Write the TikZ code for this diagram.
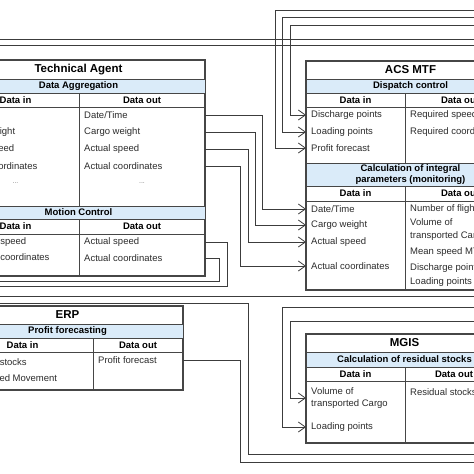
\documentclass[tikz,border=0pt]{standalone}
\usepackage{fontspec}
\setmainfont{Liberation Sans}
\usetikzlibrary{arrows.meta}
\definecolor{boxc}{RGB}{70,70,70}
\definecolor{linec}{RGB}{60,60,60}
\definecolor{rowc}{RGB}{218,235,249}
\definecolor{txtc}{RGB}{45,45,45}
\begin{document}
\begin{tikzpicture}[x=1pt,y=-1pt,
	boxline/.style={draw=boxc,line width=1.1pt},
	hline/.style={draw=boxc,line width=0.9pt},
	band/.style={fill=rowc,draw=boxc,line width=0.9pt},
	ttl/.style={inner sep=0pt,text=black,font=\bfseries\fontsize{11.5}{13}\selectfont},
	sub/.style={inner sep=0pt,text=black,font=\bfseries\fontsize{9.5}{10.5}\selectfont,align=center},
	cell/.style={anchor=west,inner sep=0pt,text=txtc,font=\fontsize{9.5}{12.5}\selectfont,align=left},
	more/.style={inner sep=0pt,text=gray,font=\fontsize{7}{8}\selectfont},
	wire/.style={draw=linec,line width=0.8pt},
	link/.style={wire,-{Straight Barb[length=7pt,width=10pt]}}]
			\useasboundingbox (0,0) rectangle (474,474);
			\clip (0,0) rectangle (474,474);
			\fill[white] (0,0) rectangle (474,474);
			% edges of the blocks
			\coordinate (taW) at (-48,0);
			\coordinate (taE) at (205,0);
			\coordinate (acsW) at (306,0);
			\coordinate (acsE) at (515,0);
			\coordinate (mgW) at (306,0);
			\coordinate (mgE) at (503,0);
			\coordinate (erW) at (-48,0);
			\coordinate (erE) at (183,0);
			% Technical Agent
			\draw[boxline] (-48,60) rectangle (205,276);
			\draw[band] (-48,79) rectangle (205,93);
			\draw[hline] (-48,107) -- (205,107);
			\draw[band] (-48,206) rectangle (205,219);
			\draw[hline] (-48,234) -- (205,234);
			\draw[hline] (79,93) -- (79,206) (79,219) -- (79,276);
			\node[ttl] (taT) at (78.5,70) {Technical Agent};
			\node[sub] (taS1) at (78.5,86) {Data Aggregation};
			\node[sub] (taH1) at (15.5,100) {Data in};
			\node[sub] (taH2) at (142,100) {Data out};
			\node[cell] (tai2) at (-41,132) {Cargo weight};
			\node[cell] (tai3) at (-41,149) {Actual speed};
			\node[cell] (tai4) at (-41,166) {Actual coordinates};
			\node[more] (taiD) at (15.5,183) {...};
			\node[cell] (tao1) at (84,115) {Date/Time};
			\node[cell] (tao2) at (84,132) {Cargo weight};
			\node[cell] (tao3) at (84,149) {Actual speed};
			\node[cell] (tao4) at (84,166) {Actual coordinates};
			\node[more] (taoD) at (142,183) {...};
			\node[sub] (taS2) at (78.5,212.5) {Motion Control};
			\node[sub] (taH3) at (15.5,226.5) {Data in};
			\node[sub] (taH4) at (142,226.5) {Data out};
			\node[cell] (mci1) at (-41,242) {Required speed};
			\node[cell] (mci2) at (-41,258) {Required coordinates};
			\node[cell] (mco1) at (84,242) {Actual speed};
			\node[cell] (mco2) at (84,258) {Actual coordinates};
			% ACS MTF
			\draw[boxline] (306,61) rectangle (515,290);
			\draw[band] (306,79) rectangle (515,93);
			\draw[hline] (306,107) -- (515,107);
			\draw[band] (306,163) rectangle (515,186);
			\draw[hline] (306,201) -- (515,201);
			\draw[hline] (405,93) -- (405,163) (405,186) -- (405,290);
			\node[ttl] (acsT) at (410.5,70) {ACS MTF};
			\node[sub] (acsS1) at (410.5,86) {Dispatch control};
			\node[sub] (acsH1) at (355.5,100) {Data in};
			\node[sub] (acsH2) at (460,100) {Data out};
			\node[cell] (dci1) at (311,115) {Discharge points};
			\node[cell] (dci2) at (311,132) {Loading points};
			\node[cell] (dci3) at (311,148) {Profit forecast};
			\node[cell] (dco1) at (410,115) {Required speed};
			\node[cell] (dco2) at (410,132) {Required coordinates};
			\node[sub] (acsS2) at (410.5,174.5) {Calculation of integral\\parameters (monitoring)};
			\node[sub] (acsH3) at (355.5,193.5) {Data in};
			\node[sub] (acsH4) at (460,193.5) {Data out};
			\node[cell] (mni1) at (311,209) {Date/Time};
			\node[cell] (mni2) at (311,225) {Cargo weight};
			\node[cell] (mni3) at (311,242) {Actual speed};
			\node[cell] (mni4) at (311,266) {Actual coordinates};
			\node[cell] (mno1) at (410,209) {Number of flights};
			\node[cell] (mno2) at (410,229.5) {Volume of\\transported Cargo};
			\node[cell] (mno3) at (410,252) {Mean speed MTF};
			\node[cell] (mno4) at (410,268) {Discharge points};
			\node[cell] (mno5) at (410,282) {Loading points};
			% MGIS
			\draw[boxline] (306,334) rectangle (503,443);
			\draw[band] (306,352) rectangle (503,367);
			\draw[hline] (306,381) -- (503,381);
			\draw[hline] (405,367) -- (405,443);
			\node[ttl] (mgT) at (404.5,343) {MGIS};
			\node[sub] (mgS) at (404.5,359.5) {Calculation of residual stocks};
			\node[sub] (mgH1) at (355.5,374) {Data in};
			\node[sub] (mgH2) at (454,374) {Data out};
			\node[cell] (mgi1) at (311,398) {Volume of\\transported Cargo};
			\node[cell] (mgi2) at (311,427) {Loading points};
			\node[cell] (mgo1) at (410,392) {Residual stocks};
			% ERP
			\draw[boxline] (-48,306) rectangle (183,390);
			\draw[band] (-48,324) rectangle (183,338);
			\draw[hline] (-48,352) -- (183,352);
			\draw[hline] (93,338) -- (93,390);
			\node[ttl] (erT) at (67.5,315) {ERP};
			\node[sub] (erS) at (67.5,331) {Profit forecasting};
			\node[sub] (erH1) at (22.5,345) {Data in};
			\node[sub] (erH2) at (138,345) {Data out};
			\node[cell] (eri1) at (-40,362) {Residual stocks};
			\node[cell] (eri2) at (-35,378) {Scheduled Movement};
			\node[cell] (ero1) at (98,360) {Profit forecast};
			% data aggregation -> monitoring
			\draw[link] (tao1 -| taE) -- ++(57,0) |- (mni1 -| acsW);
			\draw[link] (tao2 -| taE) -- ++(50,0) |- (mni2 -| acsW);
			\draw[link] (tao3 -| taE) -- ++(43,0) |- (mni3 -| acsW);
			\draw[link] (tao4 -| taE) -- ++(35,0) |- (mni4 -| acsW);
			% dispatch control -> motion control, round the top
			\draw[link] (dco1 -| acsE) -- ++(15,0) |- (-75,39) |- (mci1 -| taW);
			\draw[link] (dco2 -| acsE) -- ++(8,0) |- (-68,45) |- (mci2 -| taW);
			% motion control out to the left
			\coordinate (mcOut1) at (-100,286);
			\coordinate (mcOut2) at (-100,281);
			\draw[link] (mco1 -| taE) -- ++(22,0) |- (mcOut1);
			\draw[link] (mco2 -| taE) -- ++(14,0) |- (mcOut2);
			% profit forecast ERP -> ACS
			\draw[link] (ero1 -| erE) -- ++(57,0) |- (545,462) |- (275,10) |- (dci3 -| acsW);
			% residual stocks MGIS -> ERP
			\draw[link] (mgo1 -| mgE) -- ++(22,0) |- (-80,296) |- (eri1 -| erW);
			% monitoring -> MGIS
			\draw[link] (mno2 -| acsE) -- ++(25,0) |- (290,321) |- (mgi1 -| mgW);
			\draw[link] (mno5 -| acsE) -- ++(15,0) |- (282,307) |- (mgi2 -| mgW);
			% feeders of dispatch control
			\coordinate (srcL) at (-100,303);
			\coordinate (srcR) at (570,17);
			\draw[link] (srcL) -| (248,454) -| (535,25) -| (290,115) -- (dci1 -| acsW);
			\draw[link] (srcR) -| (282,132) -- (dci2 -| acsW);
		\end{tikzpicture}
\end{document}
